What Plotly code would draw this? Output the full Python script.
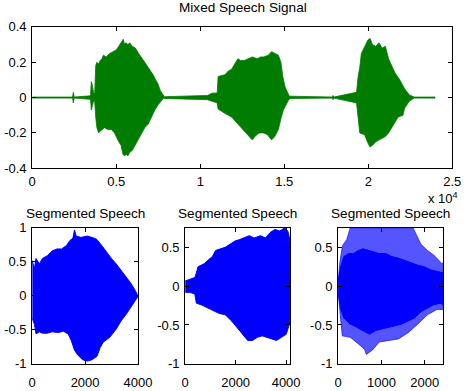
import plotly.graph_objects as go

# ---------------- data ----------------
# Mixed speech signal, envelope (sample index, amplitude)
mixed_up_x = [0, 2400, 2450, 2500, 3470, 3520, 3580, 3650, 3720, 3780, 3850, 3950, 4045, 4150, 4233, 4400,
              4617, 4800, 5000, 5150, 5286, 5418, 5500, 5572, 5700, 5800, 5950, 6144, 6333, 6522, 6700,
              6905, 7050, 7191, 7350, 7477, 7620, 7763, 7860, 10435, 10700, 11007, 11064, 11300, 11482,
              11671, 11865, 12050, 12243, 12400, 12626, 12850, 13101, 13387, 13600, 13770, 14056, 14245,
              14439, 14650, 14800, 14914, 15050, 15200, 15300, 17850, 17900, 17950, 19302, 19397, 19493,
              19588, 19779, 19970, 20107, 20252, 20446, 20635, 20824, 21018, 21207, 21396, 21590, 21876,
              22162, 22448, 22734, 23970]
mixed_up_y = [0.003, 0.003, 0.03, 0.003, 0.01, 0.09, 0.07, 0.03, 0.02, 0.18, 0.2, 0.19, 0.21, 0.22, 0.24, 0.23,
              0.25, 0.26, 0.27, 0.29, 0.31, 0.33, 0.3, 0.31, 0.3, 0.31, 0.29, 0.28, 0.25, 0.22, 0.2,
              0.17, 0.15, 0.13, 0.1, 0.08, 0.04, 0.016, 0.005, 0.012, 0.025, 0.026, 0.12, 0.125, 0.13,
              0.15, 0.16, 0.19, 0.22, 0.21, 0.21, 0.22, 0.23, 0.22, 0.23, 0.23, 0.24, 0.26,
              0.25, 0.24, 0.2, 0.12, 0.06, 0.03, 0.008, 0.003, 0.012, 0.003, 0.03, 0.12, 0.17,
              0.25, 0.29, 0.325, 0.335, 0.3, 0.29, 0.31, 0.28, 0.29, 0.22, 0.18, 0.14, 0.1,
              0.05, 0.015, 0.003, 0.003]
mixed_lo_x = [0, 2400, 2450, 2500, 3470, 3520, 3580, 3650, 3720, 3780, 3850, 3950, 4045, 4150, 4300, 4500,
              4700, 4900, 5000, 5150, 5286, 5400, 5500, 5600, 5700, 5800, 5950, 6144, 6333, 6522, 6700,
              6905, 7100, 7300, 7500, 7650, 7800, 10435, 11007, 11064, 11300, 11482, 11865, 12243, 12626,
              12850, 13101, 13250, 13500, 13770, 14000, 14245, 14439, 14650, 14800, 14950, 15100, 15250,
              15350, 17850, 17900, 17950, 19302, 19397, 19493, 19779, 19970, 20107, 20252, 20446, 20635,
              21018, 21207, 21396, 21590, 21779, 22065, 22162, 22448, 22734, 23970]
mixed_lo_y = [-0.003, -0.003, -0.03, -0.003, -0.01, -0.07, -0.05, -0.02, -0.02, -0.11, -0.17, -0.2, -0.19, -0.18, -0.17, -0.18,
              -0.18, -0.2, -0.22, -0.25, -0.27, -0.32, -0.33, -0.32, -0.33, -0.31, -0.3, -0.26, -0.23, -0.2, -0.17,
              -0.15, -0.11, -0.07, -0.04, -0.02, -0.005, -0.012, -0.03, -0.065, -0.08, -0.09, -0.11, -0.15, -0.19,
              -0.21, -0.24, -0.22, -0.2, -0.2, -0.21, -0.24, -0.22, -0.18, -0.12, -0.07, -0.04, -0.015,
              -0.005, -0.003, -0.012, -0.003, -0.03, -0.12, -0.2, -0.21, -0.256, -0.28, -0.27, -0.25, -0.24,
              -0.22, -0.2, -0.165, -0.14, -0.11, -0.1, -0.06, -0.02, -0.003, -0.003]

# Segment 1
seg1_up_x = [0, 85, 145, 267, 388, 570, 751, 933, 1115, 1297, 1418, 1540, 1600, 1661, 1842, 2085, 2327, 2448,
             2630, 2812, 2994, 3176, 3358, 3539, 3721, 3903, 4000]
seg1_up_y = [0.52, 0.40, 0.55, 0.47, 0.55, 0.59, 0.66, 0.69, 0.69, 0.74, 0.81, 0.85, 0.97, 0.88, 0.86, 0.88, 0.85, 0.83,
             0.74, 0.64, 0.55, 0.47, 0.38, 0.29, 0.19, 0.075, 0.01]
seg1_lo_x = [0, 85, 145, 267, 388, 570, 751, 994, 1176, 1358, 1479, 1600, 1721, 1903, 2085, 2267, 2448, 2570,
             2691, 2933, 3176, 3358, 3539, 3721, 3903, 4000]
seg1_lo_y = [-0.33, -0.42, -0.56, -0.53, -0.55, -0.55, -0.53, -0.54, -0.52, -0.56, -0.66, -0.8, -0.87, -0.94, -0.96, -0.94, -0.89, -0.76,
             -0.68, -0.61, -0.49, -0.37, -0.28, -0.18, -0.066, -0.01]

# Segment 2
seg2_up_x = [0, 191, 381, 445, 508, 636, 763, 890, 1080, 1207, 1398, 1589, 1779, 1970, 2161, 2351, 2542, 2733,
             2987, 3178, 3368, 3559, 3749, 3940, 4067, 4131, 4170]
seg2_up_y = [0.066, 0.087, 0.11, 0.17, 0.25, 0.27, 0.29, 0.33, 0.38, 0.46, 0.48, 0.5, 0.54, 0.58, 0.6, 0.62, 0.65, 0.62,
             0.65, 0.62, 0.69, 0.73, 0.71, 0.75, 0.71, 0.62, 0.55]
seg2_lo_x = [0, 191, 381, 445, 636, 826, 1080, 1335, 1589, 1843, 2097, 2288, 2478, 2669, 2860, 3050, 3241, 3432,
             3622, 3813, 4004, 4131, 4170]
seg2_lo_y = [-0.08, -0.08, -0.1, -0.22, -0.24, -0.26, -0.31, -0.35, -0.37, -0.45, -0.55, -0.62, -0.7, -0.7, -0.66, -0.64, -0.66, -0.68,
             -0.7, -0.66, -0.62, -0.49, -0.45]

# Segment 3 (dense core and outer spikes)
seg3_core_up_x = [0, 59, 133, 245, 356, 467, 578, 689, 800, 948, 1097, 1245, 1393, 1541, 1689, 1838, 1986, 2134, 2282, 2393, 2430]
seg3_core_up_y = [0.07, 0.25, 0.38, 0.42, 0.42, 0.46, 0.48, 0.46, 0.44, 0.42, 0.42, 0.38, 0.36, 0.33, 0.31, 0.27, 0.25, 0.21, 0.19, 0.17, 0.17]
seg3_core_lo_x = [0, 59, 133, 282, 430, 578, 726, 874, 1023, 1171, 1319, 1467, 1615, 1763, 1912, 2060, 2208, 2356, 2430]
seg3_core_lo_y = [-0.08, -0.29, -0.41, -0.49, -0.53, -0.57, -0.62, -0.57, -0.55, -0.53, -0.51, -0.49, -0.45, -0.41, -0.33, -0.29, -0.24, -0.22, -0.24]
seg3_spk_up_x = [0, 40, 100, 200, 280, 1730, 1912, 2060, 2208, 2393, 2430]
seg3_spk_up_y = [0.07, 0.3, 0.52, 0.6, 0.75, 0.75, 0.54, 0.46, 0.4, 0.29, 0.3]
seg3_spk_lo_x = [0, 96, 282, 504, 615, 652, 800, 948, 1171, 1393, 1615, 1838, 2060, 2282, 2430]
seg3_spk_lo_y = [-0.08, -0.64, -0.66, -0.76, -0.82, -0.88, -0.82, -0.72, -0.7, -0.68, -0.6, -0.49, -0.37, -0.3, -0.3]

top_xticks = [0, 5000, 10000, 15000, 20000, 25000]
top_xtext = ["0", "0.5", "1", "1.5", "2", "2.5"]
top_yticks = [-0.4, -0.2, 0, 0.2, 0.4]
top_ytext = ["-0.4", "-0.2", "0", "0.2", "0.4"]
seg_yticks_1 = [-1, -0.5, 0, 0.5, 1]
seg_ytext_1 = ["-1", "-0.5", "0", "0.5", "1"]
seg_yticks_23 = [-1, -0.5, 0, 0.5]
seg_ytext_23 = ["-1", "-0.5", "0", "0.5"]
seg_xticks_12 = [0, 2000, 4000]
seg_xticks_3 = [0, 1000, 2000]
top_title = "Mixed Speech Signal"
seg_title = "Segmented Speech"

# ---------------- figure ----------------
W, H = 474, 391
GREEN = "rgb(0,125,0)"
BLUE = "rgb(0,0,255)"
LIGHTBLUE = "rgba(20,20,255,0.72)"
FONT = "Liberation Sans, Arial, Helvetica, sans-serif"


def polygon(ux, uy, lx, ly):
    return list(ux) + list(lx)[::-1], list(uy) + list(ly)[::-1]


fig = go.Figure()

px_, py_ = polygon(mixed_up_x, mixed_up_y, mixed_lo_x, mixed_lo_y)
fig.add_trace(go.Scatter(x=px_, y=py_, mode="lines", fill="toself", fillcolor=GREEN,
                         line=dict(color=GREEN, width=0.8), xaxis="x", yaxis="y", hoverinfo="skip"))

px_, py_ = polygon(seg1_up_x, seg1_up_y, seg1_lo_x, seg1_lo_y)
fig.add_trace(go.Scatter(x=px_, y=py_, mode="lines", fill="toself", fillcolor=BLUE,
                         line=dict(color=BLUE, width=1), xaxis="x2", yaxis="y2", hoverinfo="skip"))

px_, py_ = polygon(seg2_up_x, seg2_up_y, seg2_lo_x, seg2_lo_y)
fig.add_trace(go.Scatter(x=px_, y=py_, mode="lines", fill="toself", fillcolor=BLUE,
                         line=dict(color=BLUE, width=1), xaxis="x3", yaxis="y3", hoverinfo="skip"))

px_, py_ = polygon(seg3_spk_up_x, seg3_spk_up_y, seg3_spk_lo_x, seg3_spk_lo_y)
fig.add_trace(go.Scatter(x=px_, y=py_, mode="lines", fill="toself", fillcolor=LIGHTBLUE,
                         line=dict(color=LIGHTBLUE, width=1), xaxis="x4", yaxis="y4", hoverinfo="skip"))
px_, py_ = polygon(seg3_core_up_x, seg3_core_up_y, seg3_core_lo_x, seg3_core_lo_y)
fig.add_trace(go.Scatter(x=px_, y=py_, mode="lines", fill="toself", fillcolor=BLUE,
                         line=dict(color=BLUE, width=1), xaxis="x4", yaxis="y4", hoverinfo="skip"))


def ax(domain, rng, tickvals, ticktext, anchor, standoff=0):
    return dict(domain=domain, range=rng, tickvals=tickvals, ticktext=ticktext, anchor=anchor,
                showline=True, linecolor="black", linewidth=1, mirror="ticks",
                ticks="inside", ticklen=4, tickcolor="black", tickwidth=1,
                showgrid=False, zeroline=False, fixedrange=True, ticklabelstandoff=standoff,
                tickfont=dict(family=FONT, size=13, color="black"))


def dx(a, b):
    return [a / W, b / W]


def dy(top, bottom):
    return [1 - bottom / H, 1 - top / H]


top_y = dy(20.7, 167.7)
bot_y = dy(229.7, 371)

fig.update_layout(
    width=W, height=H, margin=dict(l=0, r=0, t=0, b=0),
    paper_bgcolor="white", plot_bgcolor="white", showlegend=False,
    font=dict(family=FONT, size=13, color="black"),
    xaxis=ax(dx(29.3, 466), [0, 25000], top_xticks, top_xtext, "y", 1),
    yaxis=ax(top_y, [-0.4, 0.4], top_yticks, top_ytext, "x", 2),
    xaxis2=ax(dx(29.3, 139.3), [0, 4000], seg_xticks_12, [str(v) for v in seg_xticks_12], "y2", 7),
    yaxis2=ax(bot_y, [-1, 1], seg_yticks_1, seg_ytext_1, "x2", 2),
    xaxis3=ax(dx(188.3, 297.7), [0, 4170], seg_xticks_12, [str(v) for v in seg_xticks_12], "y3", 7),
    yaxis3=ax(bot_y, [-1, 0.75], seg_yticks_23, seg_ytext_23, "x3", 2),
    xaxis4=ax(dx(347.3, 456.7), [0, 2430], seg_xticks_3, [str(v) for v in seg_xticks_3], "y4", 7),
    yaxis4=ax(bot_y, [-1, 0.75], seg_yticks_23, seg_ytext_23, "x4", 2),
)

annos = [
    dict(text=top_title, x=248 / W, y=1 - 10 / H),
    dict(text=seg_title, x=84.3 / W, y=1 - 225 / H),
    dict(text=seg_title, x=243 / W, y=1 - 225 / H),
    dict(text=seg_title, x=402 / W, y=1 - 225 / H),
]
for a in annos:
    fig.add_annotation(xref="paper", yref="paper", xanchor="center", yanchor="bottom",
                       showarrow=False, font=dict(family=FONT, size=13.6, color="black"), **a)
fig.add_annotation(xref="paper", yref="paper", xanchor="left", yanchor="bottom",
                   x=439 / W, y=1 - 209 / H, text="x 10<sup>4</sup>", showarrow=False,
                   font=dict(family=FONT, size=13, color="black"))

fig.write_html("out.html", config={"displayModeBar": False},
               post_script="document.body.style.margin='0px';")
